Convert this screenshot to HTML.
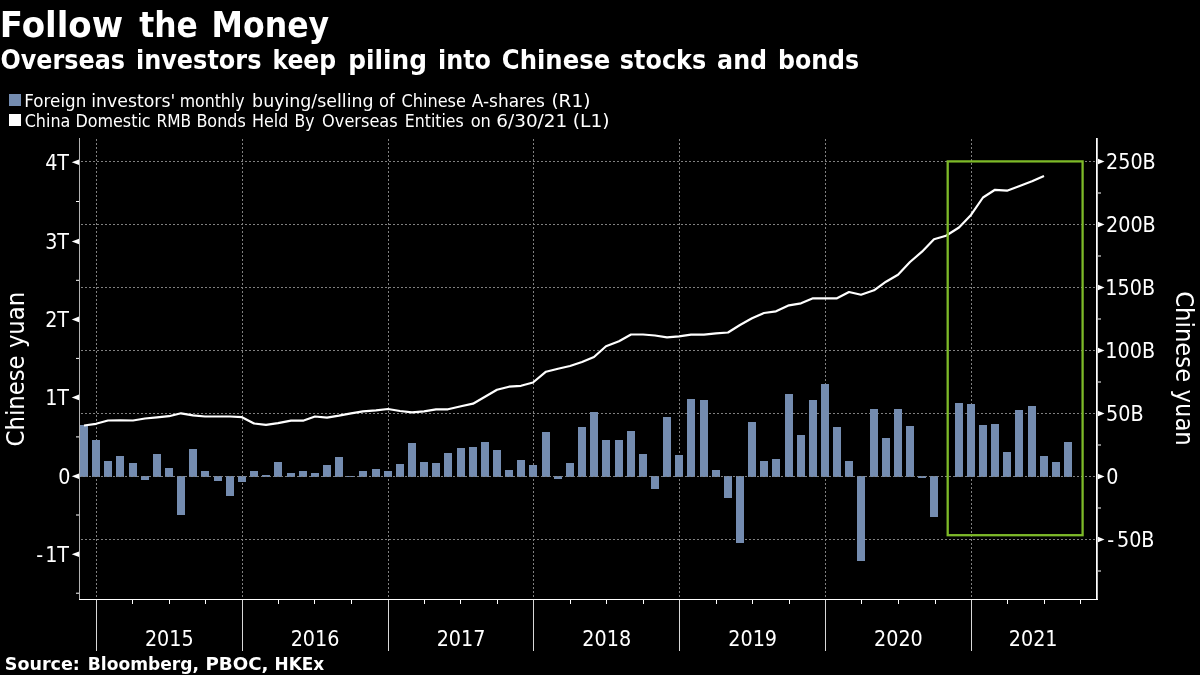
<!DOCTYPE html>
<html lang="en"><head><meta charset="utf-8"><title>Follow the Money</title>
<style>html,body{margin:0;padding:0;background:#000;overflow:hidden}svg{display:block}text{font-family:"DejaVu Sans","Liberation Sans",sans-serif;fill:#fff}.c{font-family:"DejaVu Sans Condensed","DejaVu Sans","Liberation Sans",sans-serif}.b{font-weight:bold}</style></head><body>
<svg width="1200" height="675" viewBox="0 0 1200 675">
<rect width="1200" height="675" fill="#000"/>
<text class="b" y="36.7" font-size="35.3"><tspan x="-0.13" textLength="123.23" lengthAdjust="spacingAndGlyphs">Follow</tspan> <tspan x="139.16" textLength="58.56" lengthAdjust="spacingAndGlyphs">the</tspan> <tspan x="211.59" textLength="117.53" lengthAdjust="spacingAndGlyphs">Money</tspan></text>
<text class="b" y="68.6" font-size="26.3"><tspan x="0.46" textLength="124.61" lengthAdjust="spacingAndGlyphs">Overseas</tspan> <tspan x="135.95" textLength="125.48" lengthAdjust="spacingAndGlyphs">investors</tspan> <tspan x="272.39" textLength="63.76" lengthAdjust="spacingAndGlyphs">keep</tspan> <tspan x="348.28" textLength="78.78" lengthAdjust="spacingAndGlyphs">piling</tspan> <tspan x="437.95" textLength="53.07" lengthAdjust="spacingAndGlyphs">into</tspan> <tspan x="501.84" textLength="108.39" lengthAdjust="spacingAndGlyphs">Chinese</tspan> <tspan x="619.86" textLength="86.30" lengthAdjust="spacingAndGlyphs">stocks</tspan> <tspan x="717.10" textLength="49.98" lengthAdjust="spacingAndGlyphs">and</tspan> <tspan x="777.97" textLength="81.24" lengthAdjust="spacingAndGlyphs">bonds</tspan></text>
<text y="106.7" font-size="17.6"><tspan x="24.33" textLength="61.99" lengthAdjust="spacingAndGlyphs">Foreign</tspan> <tspan x="91.28" textLength="83.89" lengthAdjust="spacingAndGlyphs">investors&#x27;</tspan> <tspan x="179.65" textLength="64.93" lengthAdjust="spacingAndGlyphs">monthly</tspan> <tspan x="252.12" textLength="121.46" lengthAdjust="spacingAndGlyphs">buying/selling</tspan> <tspan x="379.08" textLength="15.66" lengthAdjust="spacingAndGlyphs">of</tspan> <tspan x="401.48" textLength="64.48" lengthAdjust="spacingAndGlyphs">Chinese</tspan> <tspan x="471.76" textLength="73.14" lengthAdjust="spacingAndGlyphs">A-shares</tspan> <tspan x="551.42" textLength="39.05" lengthAdjust="spacingAndGlyphs">(R1)</tspan></text>
<text y="126.6" font-size="17.6"><tspan x="24.69" textLength="45.69" lengthAdjust="spacingAndGlyphs">China</tspan> <tspan x="75.41" textLength="75.24" lengthAdjust="spacingAndGlyphs">Domestic</tspan> <tspan x="156.47" textLength="34.62" lengthAdjust="spacingAndGlyphs">RMB</tspan> <tspan x="196.41" textLength="49.34" lengthAdjust="spacingAndGlyphs">Bonds</tspan> <tspan x="252.01" textLength="36.47" lengthAdjust="spacingAndGlyphs">Held</tspan> <tspan x="294.44" textLength="19.99" lengthAdjust="spacingAndGlyphs">By</tspan> <tspan x="322.08" textLength="75.62" lengthAdjust="spacingAndGlyphs">Overseas</tspan> <tspan x="404.83" textLength="58.92" lengthAdjust="spacingAndGlyphs">Entities</tspan> <tspan x="470.68" textLength="20.24" lengthAdjust="spacingAndGlyphs">on</tspan> <tspan x="496.29" textLength="70.96" lengthAdjust="spacingAndGlyphs">6/30/21</tspan> <tspan x="572.81" textLength="36.76" lengthAdjust="spacingAndGlyphs">(L1)</tspan></text>
<text class="b" y="670.2" font-size="17.8"><tspan x="4.77" textLength="75.13" lengthAdjust="spacingAndGlyphs">Source:</tspan> <tspan x="87.76" textLength="111.28" lengthAdjust="spacingAndGlyphs">Bloomberg,</tspan> <tspan x="205.46" textLength="63.05" lengthAdjust="spacingAndGlyphs">PBOC,</tspan> <tspan x="274.57" textLength="49.69" lengthAdjust="spacingAndGlyphs">HKEx</tspan></text>
<rect x="9" y="94" width="12" height="12" fill="#748cb0"/>
<rect x="9" y="114" width="12" height="12" fill="#fff"/>
<g stroke="#808080" stroke-width="1" stroke-dasharray="2,2" shape-rendering="crispEdges">
<line x1="81" y1="161.5" x2="1096" y2="161.5"/>
<line x1="81" y1="224.5" x2="1096" y2="224.5"/>
<line x1="81" y1="287.5" x2="1096" y2="287.5"/>
<line x1="81" y1="350.5" x2="1096" y2="350.5"/>
<line x1="81" y1="413.5" x2="1096" y2="413.5"/>
<line x1="81" y1="476.5" x2="1096" y2="476.5"/>
<line x1="81" y1="539.5" x2="1096" y2="539.5"/>
<line x1="96.5" y1="139" x2="96.5" y2="599"/>
<line x1="242.5" y1="139" x2="242.5" y2="599"/>
<line x1="388.5" y1="139" x2="388.5" y2="599"/>
<line x1="533.5" y1="139" x2="533.5" y2="599"/>
<line x1="679.5" y1="139" x2="679.5" y2="599"/>
<line x1="825.5" y1="139" x2="825.5" y2="599"/>
<line x1="971.5" y1="139" x2="971.5" y2="599"/>
</g>
<g fill="#748cb0" shape-rendering="crispEdges">
<rect x="80" y="425.2" width="8" height="51.8"/>
<rect x="92" y="439.8" width="8" height="37.2"/>
<rect x="104" y="461.0" width="8" height="16.0"/>
<rect x="116" y="456.0" width="8" height="21.0"/>
<rect x="129" y="462.8" width="8" height="14.2"/>
<rect x="141" y="476.0" width="8" height="3.8"/>
<rect x="153" y="453.8" width="8" height="23.2"/>
<rect x="165" y="467.8" width="8" height="9.2"/>
<rect x="177" y="476.0" width="8" height="38.6"/>
<rect x="189" y="448.8" width="8" height="28.2"/>
<rect x="201" y="470.8" width="8" height="6.2"/>
<rect x="214" y="476.0" width="8" height="5.0"/>
<rect x="226" y="476.0" width="8" height="20.0"/>
<rect x="238" y="476.0" width="8" height="5.8"/>
<rect x="250" y="470.8" width="8" height="6.2"/>
<rect x="262" y="475.2" width="8" height="1.8"/>
<rect x="274" y="461.8" width="8" height="15.2"/>
<rect x="287" y="472.8" width="8" height="4.2"/>
<rect x="299" y="470.8" width="8" height="6.2"/>
<rect x="311" y="472.8" width="8" height="4.2"/>
<rect x="323" y="464.8" width="8" height="12.2"/>
<rect x="335" y="456.8" width="8" height="20.2"/>
<rect x="347" y="476.0" width="8" height="0.6"/>
<rect x="359" y="470.8" width="8" height="6.2"/>
<rect x="372" y="468.8" width="8" height="8.2"/>
<rect x="384" y="470.8" width="8" height="6.2"/>
<rect x="396" y="463.8" width="8" height="13.2"/>
<rect x="408" y="443.0" width="8" height="34.0"/>
<rect x="420" y="461.8" width="8" height="15.2"/>
<rect x="432" y="462.8" width="8" height="14.2"/>
<rect x="444" y="452.8" width="8" height="24.2"/>
<rect x="457" y="447.8" width="8" height="29.2"/>
<rect x="469" y="446.8" width="8" height="30.2"/>
<rect x="481" y="441.8" width="8" height="35.2"/>
<rect x="493" y="449.8" width="8" height="27.2"/>
<rect x="505" y="469.8" width="8" height="7.2"/>
<rect x="517" y="459.8" width="8" height="17.2"/>
<rect x="529" y="464.8" width="8" height="12.2"/>
<rect x="542" y="431.8" width="8" height="45.2"/>
<rect x="554" y="476.0" width="8" height="2.7"/>
<rect x="566" y="462.8" width="8" height="14.2"/>
<rect x="578" y="426.8" width="8" height="50.2"/>
<rect x="590" y="411.8" width="8" height="65.2"/>
<rect x="602" y="439.8" width="8" height="37.2"/>
<rect x="615" y="439.8" width="8" height="37.2"/>
<rect x="627" y="430.8" width="8" height="46.2"/>
<rect x="639" y="453.8" width="8" height="23.2"/>
<rect x="651" y="476.0" width="8" height="12.6"/>
<rect x="663" y="416.8" width="8" height="60.2"/>
<rect x="675" y="454.8" width="8" height="22.2"/>
<rect x="687" y="398.8" width="8" height="78.2"/>
<rect x="700" y="399.8" width="8" height="77.2"/>
<rect x="712" y="469.8" width="8" height="7.2"/>
<rect x="724" y="476.0" width="8" height="21.6"/>
<rect x="736" y="476.0" width="8" height="66.6"/>
<rect x="748" y="421.8" width="8" height="55.2"/>
<rect x="760" y="460.8" width="8" height="16.2"/>
<rect x="772" y="458.8" width="8" height="18.2"/>
<rect x="785" y="393.8" width="8" height="83.2"/>
<rect x="797" y="434.8" width="8" height="42.2"/>
<rect x="809" y="399.8" width="8" height="77.2"/>
<rect x="821" y="383.8" width="8" height="93.2"/>
<rect x="833" y="426.8" width="8" height="50.2"/>
<rect x="845" y="460.8" width="8" height="16.2"/>
<rect x="857" y="476.0" width="8" height="84.6"/>
<rect x="870" y="408.8" width="8" height="68.2"/>
<rect x="882" y="437.8" width="8" height="39.2"/>
<rect x="894" y="408.8" width="8" height="68.2"/>
<rect x="906" y="425.8" width="8" height="51.2"/>
<rect x="918" y="476.0" width="8" height="1.6"/>
<rect x="930" y="476.0" width="8" height="40.6"/>
<rect x="955" y="402.8" width="8" height="74.2"/>
<rect x="967" y="403.8" width="8" height="73.2"/>
<rect x="979" y="424.8" width="8" height="52.2"/>
<rect x="991" y="423.8" width="8" height="53.2"/>
<rect x="1003" y="451.8" width="8" height="25.2"/>
<rect x="1015" y="409.8" width="8" height="67.2"/>
<rect x="1028" y="405.8" width="8" height="71.2"/>
<rect x="1040" y="455.8" width="8" height="21.2"/>
<rect x="1052" y="461.8" width="8" height="15.2"/>
<rect x="1064" y="441.8" width="8" height="35.2"/>
</g>
<line x1="81" y1="476.5" x2="1096" y2="476.5" stroke="#808080" stroke-width="1" stroke-dasharray="2,2" shape-rendering="crispEdges" opacity="0.8"/>
<polyline points="84,425.5 96,423.8 108,420.5 120,420.3 133,420.5 145,418.5 157,417.3 169,416.2 181,413.3 193,415.3 205,416.5 218,416.5 230,416.5 242,417.2 254,423.5 266,424.8 278,423.2 291,420.7 303,420.7 315,416.5 327,417.7 339,415.7 351,413.3 363,411.3 376,410.3 388,409 400,411 412,412.3 424,411.3 436,409.3 448,409.3 461,406.3 473,403.7 485,396.7 497,389.7 509,386.7 521,385.8 533,382.5 546,371.7 558,368.7 570,366 582,362 594,357 606,346.3 619,341.3 631,334.5 643,334.5 655,335.5 667,337.3 679,336.3 691,334.7 704,334.7 716,333.3 728,332.5 740,325 752,318.3 764,313 776,311.3 789,305.3 801,303.3 813,298.3 825,298.3 837,298.3 849,292 861,294.7 874,290.3 886,281.7 898,274.7 910,262 922,251.7 934,239.2 946,235.8 959,227.5 971,214.9 983,197.5 995,189.8 1007,190.7 1019,186.25 1032,181.25 1044,175.9" fill="none" stroke="#fff" stroke-width="2.2" stroke-linejoin="round" stroke-linecap="butt"/>
<rect x="947.7" y="161.4" width="134.9" height="373.8" fill="none" stroke="#7db928" stroke-width="2.3"/>
<g fill="#fff" shape-rendering="crispEdges">
<rect x="79" y="138" width="1" height="462" fill="#b2b2b2"/>
<rect x="1096" y="138" width="1.75" height="462" shape-rendering="auto"/>
<rect x="79" y="599" width="1019" height="1"/>
<rect x="96" y="600" width="1" height="51" fill="#d8d8d8"/>
<rect x="242" y="600" width="1" height="51" fill="#d8d8d8"/>
<rect x="388" y="600" width="1" height="51" fill="#d8d8d8"/>
<rect x="533" y="600" width="1" height="51" fill="#d8d8d8"/>
<rect x="679" y="600" width="1" height="51" fill="#d8d8d8"/>
<rect x="825" y="600" width="1" height="51" fill="#d8d8d8"/>
<rect x="971" y="600" width="1" height="51" fill="#d8d8d8"/>
<rect x="132" y="600" width="1" height="4"/>
<rect x="169" y="600" width="1" height="4"/>
<rect x="205" y="600" width="1" height="4"/>
<rect x="278" y="600" width="1" height="4"/>
<rect x="314" y="600" width="1" height="4"/>
<rect x="351" y="600" width="1" height="4"/>
<rect x="424" y="600" width="1" height="4"/>
<rect x="460" y="600" width="1" height="4"/>
<rect x="497" y="600" width="1" height="4"/>
<rect x="570" y="600" width="1" height="4"/>
<rect x="606" y="600" width="1" height="4"/>
<rect x="643" y="600" width="1" height="4"/>
<rect x="716" y="600" width="1" height="4"/>
<rect x="752" y="600" width="1" height="4"/>
<rect x="789" y="600" width="1" height="4"/>
<rect x="861" y="600" width="1" height="4"/>
<rect x="898" y="600" width="1" height="4"/>
<rect x="935" y="600" width="1" height="4"/>
<rect x="1007" y="600" width="1" height="4"/>
<rect x="1044" y="600" width="1" height="4"/>
<rect x="1080" y="600" width="1" height="4"/>
</g>
<g fill="#fff">
<rect x="76" y="201.0" width="3" height="1"/>
<rect x="76" y="279.8" width="3" height="1"/>
<rect x="76" y="357.9" width="3" height="1"/>
<rect x="76" y="436.4" width="3" height="1"/>
<rect x="76" y="514.5" width="3" height="1"/>
<rect x="76" y="592.7" width="3" height="1"/>
<rect x="1098" y="192.5" width="3" height="1"/>
<rect x="1098" y="255.5" width="3" height="1"/>
<rect x="1098" y="318.5" width="3" height="1"/>
<rect x="1098" y="381.5" width="3" height="1"/>
<rect x="1098" y="444.5" width="3" height="1"/>
<rect x="1098" y="507.5" width="3" height="1"/>
<rect x="1098" y="570.5" width="3" height="1"/>
</g>
<g fill="#fff">
<path d="M79 159.5L79 165.10000000000002L71.7 162.3Z"/>
<path d="M79 238.7L79 244.3L71.7 241.5Z"/>
<path d="M79 316.59999999999997L79 322.2L71.7 319.4Z"/>
<path d="M79 394.59999999999997L79 400.2L71.7 397.4Z"/>
<path d="M79 473.5L79 479.1L71.7 476.3Z"/>
<path d="M79 551.5L79 557.0999999999999L71.7 554.3Z"/>
<path d="M1098 158.7L1098 164.3L1104.5 161.5Z"/>
<path d="M1098 221.7L1098 227.3L1104.5 224.5Z"/>
<path d="M1098 284.7L1098 290.3L1104.5 287.5Z"/>
<path d="M1098 347.7L1098 353.3L1104.5 350.5Z"/>
<path d="M1098 410.7L1098 416.3L1104.5 413.5Z"/>
<path d="M1098 473.7L1098 479.3L1104.5 476.5Z"/>
<path d="M1098 536.7L1098 542.3L1104.5 539.5Z"/>
</g>
<text class="c" y="169.8" font-size="22"><tspan x="45.14" textLength="23.90" lengthAdjust="spacingAndGlyphs">4T</tspan></text>
<text class="c" y="249.0" font-size="22"><tspan x="45.14" textLength="23.90" lengthAdjust="spacingAndGlyphs">3T</tspan></text>
<text class="c" y="327.0" font-size="22"><tspan x="45.14" textLength="23.90" lengthAdjust="spacingAndGlyphs">2T</tspan></text>
<text class="c" y="405.0" font-size="22"><tspan x="45.14" textLength="23.90" lengthAdjust="spacingAndGlyphs">1T</tspan></text>
<text class="c" y="483.9" font-size="22"><tspan x="58.21" textLength="12.19" lengthAdjust="spacingAndGlyphs">0</tspan></text>
<text class="c" y="169.1" font-size="22"><tspan x="1106.05" textLength="49.72" lengthAdjust="spacingAndGlyphs">250B</tspan></text>
<text class="c" y="232.1" font-size="22"><tspan x="1106.05" textLength="49.72" lengthAdjust="spacingAndGlyphs">200B</tspan></text>
<text class="c" y="295.1" font-size="22"><tspan x="1105.32" textLength="49.72" lengthAdjust="spacingAndGlyphs">150B</tspan></text>
<text class="c" y="358.1" font-size="22"><tspan x="1105.32" textLength="49.72" lengthAdjust="spacingAndGlyphs">100B</tspan></text>
<text class="c" y="421.1" font-size="22"><tspan x="1106.05" textLength="37.53" lengthAdjust="spacingAndGlyphs">50B</tspan></text>
<text class="c" y="484.1" font-size="22"><tspan x="1106.29" textLength="12.19" lengthAdjust="spacingAndGlyphs">0</tspan></text>
<text class="c" y="646.1" font-size="22"><tspan x="144.88" textLength="48.75" lengthAdjust="spacingAndGlyphs">2015</tspan></text>
<text class="c" y="646.1" font-size="22"><tspan x="290.64" textLength="48.75" lengthAdjust="spacingAndGlyphs">2016</tspan></text>
<text class="c" y="646.1" font-size="22"><tspan x="436.68" textLength="48.75" lengthAdjust="spacingAndGlyphs">2017</tspan></text>
<text class="c" y="646.1" font-size="22"><tspan x="582.36" textLength="48.75" lengthAdjust="spacingAndGlyphs">2018</tspan></text>
<text class="c" y="646.1" font-size="22"><tspan x="728.26" textLength="48.75" lengthAdjust="spacingAndGlyphs">2019</tspan></text>
<text class="c" y="646.1" font-size="22"><tspan x="874.06" textLength="48.75" lengthAdjust="spacingAndGlyphs">2020</tspan></text>
<text class="c" y="646.1" font-size="22"><tspan x="1008.80" textLength="48.75" lengthAdjust="spacingAndGlyphs">2021</tspan></text>
<text class="c" y="561.9" font-size="22"><tspan x="36.33" textLength="6.93" lengthAdjust="spacingAndGlyphs">-</tspan><tspan x="45.14" textLength="23.90" lengthAdjust="spacingAndGlyphs">1T</tspan></text>
<text class="c" y="547.1" font-size="22"><tspan x="1107.33" textLength="6.93" lengthAdjust="spacingAndGlyphs">-</tspan><tspan x="1116.95" textLength="37.53" lengthAdjust="spacingAndGlyphs">50B</tspan></text>
<text class="c" transform="translate(24.3,446.4) rotate(-90)" font-size="25" textLength="154.6" lengthAdjust="spacingAndGlyphs">Chinese yuan</text>
<text class="c" transform="translate(1175.8,291.2) rotate(90)" font-size="25" textLength="154.6" lengthAdjust="spacingAndGlyphs">Chinese yuan</text>
</svg></body></html>
